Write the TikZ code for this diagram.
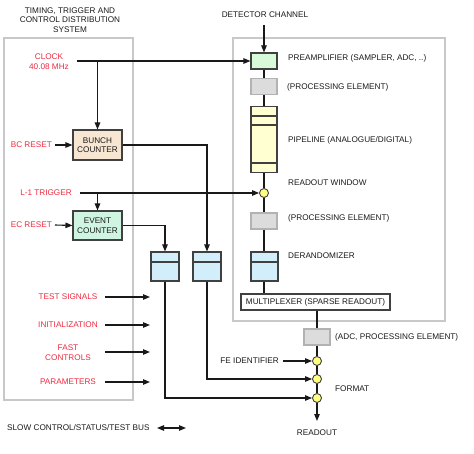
\documentclass[tikz,border=0pt]{standalone}
\usepackage{fontspec}
\setmainfont{Liberation Sans}
\usetikzlibrary{arrows.meta,calc}
\definecolor{redlab}{HTML}{EE2A40}
\definecolor{frame}{HTML}{C8C8C8}
\definecolor{greenfill}{HTML}{D8FAD8}
\definecolor{grayfill}{HTML}{DCDCDC}
\definecolor{yellowfill}{HTML}{FFFFD2}
\definecolor{tanfill}{HTML}{F7E6D2}
\definecolor{mintfill}{HTML}{CFF5E2}
\definecolor{bluefill}{HTML}{D2EEFA}
\definecolor{dotfill}{HTML}{FFFF80}
\definecolor{txt}{HTML}{1A1A1A}
\begin{document}
\begin{tikzpicture}[x=1pt,y=-1pt,
  every node/.style={font=\fontsize{8.2}{9.5}\selectfont, text=txt},
  lab/.style={inner sep=0pt, anchor=west},
  redtxt/.style={inner sep=0pt, text=redlab, align=center},
  conn/.style={draw=black!90, line width=1.1pt},
  arr/.style={conn, -{Triangle[length=7pt,width=5.5pt]}},
  sysframe/.style={draw=frame, line width=1.1pt},
  blk/.style={draw=black!75, line width=1.1pt, inner sep=0pt, align=center},
  pebox/.style={draw=black!30, fill=grayfill, line width=1.1pt, minimum width=26pt, minimum height=16pt, inner sep=0pt},
  dot/.style={circle, draw=black!75, fill=dotfill, line width=0.9pt, minimum size=9pt, inner sep=0pt},
  buf/.style={blk, fill=bluefill, minimum width=28pt, minimum height=29pt}
]
\useasboundingbox (0,0) rectangle (474,454);
% frames
\draw[sysframe] (4,38) rectangle (133,400);
\draw[sysframe] (233,38) rectangle (445,321);
% titles
\node[inner sep=0pt, align=center] (title) at (70,20) {TIMING, TRIGGER AND\\CONTROL DISTRIBUTION\\SYSTEM};
\node[inner sep=0pt] (detlab) at (265,15) {DETECTOR CHANNEL};
% front-end chain
\node[blk, fill=greenfill, minimum width=26pt, minimum height=16pt] (preamp) at (264,61) {};
\node[pebox] (pe1) at (264,86.5) {};
\node[blk, fill=yellowfill, minimum width=26pt, minimum height=66pt] (pipe) at (264,139.5) {};
\draw[draw=black!75, line width=1.1pt] (251,116) -- (277,116) (251,125) -- (277,125) (251,163) -- (277,163);
\node[dot] (rw) at (264,193) {};
\node[pebox] (pe2) at (264,221) {};
\node[buf, minimum width=27pt] (der) at (264.5,266.5) {};
\draw[draw=black!75, line width=1.1pt] (251,262) -- (278,262);
\node[blk, fill=white, minimum width=149pt, minimum height=16pt] (mux) at (315.5,302) {MULTIPLEXER (SPARSE READOUT)};
\node[pebox] (adc) at (317,337) {};
\node[dot] (f1) at (317,361) {};
\node[dot] (f2) at (317,379) {};
\node[dot] (f3) at (317,398) {};
\coordinate (ro) at (317,421);
\node[inner sep=0pt] (rolab) at (317,433) {READOUT};
% right labels
\node[lab] (lpre) at (288,58) {PREAMPLIFIER (SAMPLER, ADC, ..)};
\node[lab] (lpe1) at (287,87) {(PROCESSING ELEMENT)};
\node[lab] (lpipe) at (288,140) {PIPELINE (ANALOGUE/DIGITAL)};
\node[lab] (lrw) at (288,183) {READOUT WINDOW};
\node[lab] (lpe2) at (288,218) {(PROCESSING ELEMENT)};
\node[lab] (lder) at (288,256) {DERANDOMIZER};
\node[lab] (ladc) at (335,337) {(ADC, PROCESSING ELEMENT)};
\node[lab] (lfmt) at (335,389) {FORMAT};
\node[inner sep=0pt, anchor=east] (lfe) at (279,361) {FE IDENTIFIER};
% TTC blocks
\node[blk, fill=tanfill, minimum width=49pt, minimum height=30pt] (bunch) at (97.5,145) {BUNCH\\COUNTER};
\node[blk, fill=mintfill, minimum width=49pt, minimum height=29pt] (event) at (97.5,225.5) {EVENT\\COUNTER};
\node[buf] (buf1) at (165,266.5) {};
\node[buf] (buf2) at (207,266.5) {};
\draw[draw=black!75, line width=1.1pt] (151,262) -- (179,262) (193,262) -- (221,262);
% red labels
\node[redtxt] (clk) at (49,61.5) {CLOCK\\40.08 MHz};
\node[redtxt, anchor=east] (bcr) at (52,145) {BC RESET};
\node[redtxt] (l1) at (46,193) {L-1 TRIGGER};
\node[redtxt, anchor=east] (ecr) at (52,225) {EC RESET};
\node[redtxt] (ts) at (68,297) {TEST SIGNALS};
\node[redtxt] (ini) at (68,325) {INITIALIZATION};
\node[redtxt] (fc) at (68,352.5) {FAST\\CONTROLS};
\node[redtxt] (par) at (68,382) {PARAMETERS};
\node[inner sep=0pt, anchor=west] (slow) at (7,428) {SLOW CONTROL/STATUS/TEST BUS};
% coordinates
\coordinate (clks) at (77,61);
\coordinate (j1) at (97.5,61);
\coordinate (l1s) at (80,193);
\coordinate (j2) at (97.5,193);
\coordinate (bcrs) at (55,145);
\coordinate (ecrs) at (55,225);
\coordinate (dcs) at (264,25);
\coordinate (fes) at (283,361);
\coordinate (tsa) at (105,297); \coordinate (tsb) at (150,297);
\coordinate (inia) at (105,325); \coordinate (inib) at (150,325);
\coordinate (fca) at (105,352); \coordinate (fcb) at (150,352);
\coordinate (para) at (105,382); \coordinate (parb) at (150,382);
\coordinate (sba) at (157,428); \coordinate (sbb) at (186,428);
% connectors
\draw[arr] (dcs) -- (preamp.north);
\draw[arr] (clks) -- (preamp.west);
\draw[arr] (j1) -- (bunch.north);
\draw[arr] (l1s) -- (rw.west);
\draw[arr] (j2) -- (event.north);
\draw[arr] (bcrs) -- (bunch.west);
\draw[arr] (ecrs) -- (event.west);
\draw[arr] (bunch.east) -| (buf2.north);
\draw[arr] (event.east) -| (buf1.north);
\draw[arr] (buf1.south) |- (f3.west);
\draw[arr] (buf2.south) |- (f2.west);
\draw[arr] (fes) -- (f1.west);
\draw[conn] (preamp.south) -- (pe1.north);
\draw[conn] (pe1.south) -- (pipe.north);
\draw[conn] (pipe.south) -- (rw.north);
\draw[conn] (rw.south) -- (pe2.north);
\draw[conn] (pe2.south) -- (pe2.south |- der.north);
\draw[conn] (der.south -| pe2.south) -- (pe2.south |- mux.north);
\draw[conn] (adc.north |- mux.south) -- (adc.north);
\draw[conn] (adc.south) -- (f1.north);
\draw[conn] (f1.south) -- (f2.north);
\draw[conn] (f2.south) -- (f3.north);
\draw[arr] (f3.south) -- (ro);
\draw[arr] (tsa) -- (tsb);
\draw[arr] (inia) -- (inib);
\draw[arr] (fca) -- (fcb);
\draw[arr] (para) -- (parb);
\draw[conn, {Triangle[length=7pt,width=5.5pt]}-{Triangle[length=7pt,width=5.5pt]}] (sba) -- (sbb);
\end{tikzpicture}
\end{document}
